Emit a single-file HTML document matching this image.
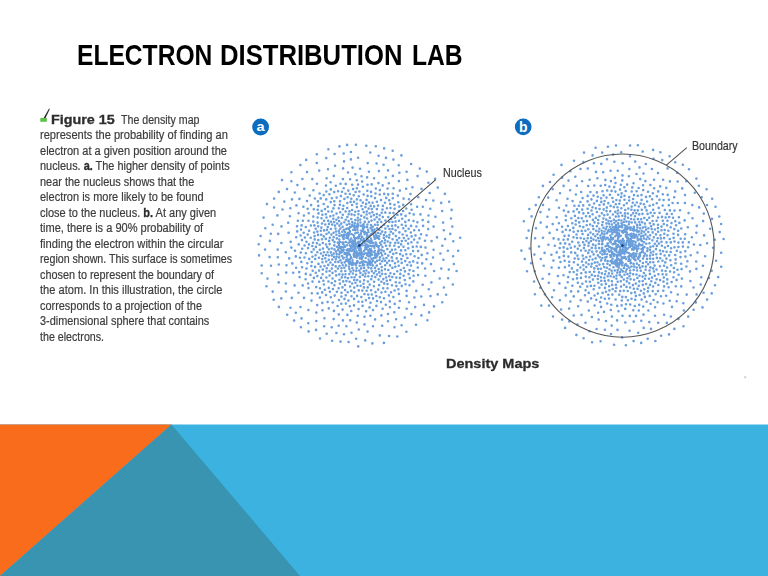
<!DOCTYPE html>
<html><head><meta charset="utf-8"><style>
html,body{margin:0;padding:0;background:#fff;}
body{width:768px;height:576px;position:relative;overflow:hidden;font-family:"Liberation Sans", sans-serif;}
.t{position:absolute;white-space:pre;line-height:1;transform-origin:0 0;}
.t b{font-weight:700;color:#2a2a2a}
.p{-webkit-text-stroke:0.2px #3c3c3c}
.f{filter:blur(0.35px)}
.h{-webkit-text-stroke:0.3px #2e2e2e}
.t b{-webkit-text-stroke:0.3px #2a2a2a}
.fig{position:absolute;left:0;top:0}
.band{position:absolute;left:0;top:424px}
</style></head><body>
<svg class="fig" width="768" height="424" viewBox="0 0 768 424">
<defs><filter id="bl" x="-5%" y="-5%" width="110%" height="110%"><feGaussianBlur stdDeviation="0.55"/></filter></defs>
<g filter="url(#bl)" stroke="#6a9fdc" stroke-width="2.6" stroke-linecap="round" fill="none">
<path d="M421.4 315.4h0M363.7 194.5h0M291.3 247.6h0M307.0 172.1h0M393.6 188.3h0M278.1 274.6h0M372.4 343.4h0M433.0 257.5h0M417.4 222.2h0M373.0 310.1h0M406.3 254.3h0M293.2 272.8h0M364.5 294.1h0M398.9 181.1h0M331.9 211.5h0M453.3 241.2h0M401.8 285.9h0M344.0 161.4h0M399.4 172.8h0M333.7 319.1h0M428.4 182.8h0M281.4 243.0h0M378.5 183.1h0M394.3 312.2h0M335.1 165.8h0M311.8 293.2h0M269.9 240.9h0M296.2 237.3h0M441.3 268.6h0M437.0 237.4h0M326.4 271.6h0M258.7 244.2h0M368.9 171.7h0M390.5 208.0h0M298.6 213.3h0M350.2 320.2h0M378.6 155.7h0M385.8 177.5h0M297.9 220.7h0M448.1 278.3h0M318.2 226.3h0M322.2 292.4h0M281.5 226.4h0M307.0 201.0h0M417.6 176.1h0M386.0 157.9h0M356.2 338.7h0M345.7 219.7h0M421.3 296.5h0M344.3 267.8h0M398.9 307.7h0M385.4 291.8h0M342.9 179.1h0M328.8 308.4h0M421.7 254.9h0M320.6 266.6h0M434.0 306.4h0M313.0 242.7h0M287.0 189.1h0M411.4 314.1h0M404.8 317.6h0M326.6 178.2h0M373.0 326.2h0M298.5 292.8h0M324.4 318.3h0M411.0 265.6h0M452.3 226.6h0M326.7 333.8h0M356.8 180.2h0M373.6 232.0h0M401.4 155.4h0M321.3 227.6h0M426.8 171.6h0M316.2 287.1h0M382.2 325.7h0M318.5 263.9h0M338.8 314.4h0M316.1 329.9h0M377.0 301.0h0M334.4 285.3h0M316.8 163.0h0M413.5 221.0h0M421.5 188.9h0M259.0 255.4h0M367.6 331.6h0M395.3 266.8h0M399.0 220.7h0M392.7 193.8h0M329.9 291.8h0M412.4 187.2h0M451.0 218.5h0M409.0 302.2h0M375.2 257.8h0M443.9 287.5h0M316.3 312.6h0M371.7 184.4h0M405.0 271.4h0M418.3 197.3h0M420.5 214.4h0M344.0 334.3h0M407.4 258.0h0M425.0 240.7h0M390.4 273.2h0M287.2 314.8h0M405.6 215.9h0M357.8 315.7h0M414.1 239.6h0M303.4 206.8h0M349.4 269.1h0M444.8 193.9h0M392.6 239.2h0M328.0 169.2h0M341.5 292.7h0M312.3 179.1h0M339.0 300.0h0M403.1 211.0h0M290.4 208.3h0M360.4 272.9h0M333.7 237.1h0M431.4 282.4h0M336.4 333.0h0M265.1 249.6h0M367.2 218.5h0M399.4 232.4h0M375.8 146.2h0M384.2 193.9h0M416.3 290.9h0M389.3 221.9h0M406.6 171.8h0M343.4 205.8h0M322.5 262.2h0M288.2 222.8h0M399.9 190.6h0M312.5 281.6h0M319.6 193.5h0M336.4 234.7h0M336.2 275.4h0M395.8 282.2h0M288.6 232.7h0M364.5 316.8h0M311.6 252.0h0M294.6 285.4h0M346.4 326.2h0M385.2 253.7h0M326.3 158.1h0M300.5 307.0h0M352.6 167.6h0M433.6 226.6h0M360.4 222.5h0M317.2 305.1h0M456.6 271.0h0M388.0 170.4h0M348.6 342.0h0M395.9 236.1h0M267.5 278.6h0M421.0 234.3h0M388.9 295.4h0M403.5 246.7h0M304.3 188.9h0M382.9 205.9h0M358.8 329.5h0M319.1 281.8h0M424.0 304.9h0M263.6 217.6h0M366.3 145.7h0M308.5 220.7h0M298.7 244.4h0M337.6 306.0h0M376.6 163.5h0M277.7 249.6h0M326.4 277.5h0M412.8 246.9h0M355.9 144.8h0M345.0 285.0h0M308.5 288.1h0M281.3 298.4h0M284.3 201.6h0M429.7 193.0h0M314.9 198.5h0M442.2 211.0h0M328.8 287.9h0M334.6 154.0h0M321.2 234.7h0M338.1 250.0h0M305.8 273.9h0M335.8 185.7h0M371.1 290.3h0M399.0 211.0h0M401.6 325.3h0M398.3 202.3h0M453.8 264.0h0M318.3 205.9h0M278.7 282.4h0M369.1 202.5h0M330.3 216.2h0M433.3 200.6h0M318.5 213.4h0M322.0 239.3h0M348.3 190.6h0M409.5 285.2h0M327.2 247.1h0M368.5 267.6h0M308.3 323.3h0M383.2 288.2h0M388.8 183.2h0M278.8 191.9h0M381.1 244.8h0M332.7 302.5h0M274.1 198.6h0M361.4 206.0h0M417.8 267.6h0M406.6 295.9h0M411.1 164.0h0M383.7 251.1h0M370.6 227.9h0M354.2 280.0h0M302.4 179.0h0M326.4 191.5h0M291.4 172.3h0M327.8 206.7h0M308.7 213.3h0M299.4 198.9h0M334.5 242.1h0M319.9 297.6h0M389.1 336.0h0M285.9 283.5h0M416.0 324.7h0M388.3 255.6h0M431.0 264.1h0M325.2 258.3h0M291.8 297.9h0M329.1 240.9h0M353.1 189.1h0M330.8 297.3h0M330.9 229.0h0M445.1 239.1h0M386.2 197.9h0M393.4 297.1h0M326.2 199.4h0M449.1 201.7h0M358.0 184.6h0M435.4 216.7h0M302.7 285.4h0M378.6 279.6h0M395.6 221.5h0M285.9 291.5h0M309.1 230.8h0M399.9 277.9h0M383.4 258.6h0M407.4 179.9h0M411.0 204.3h0M295.0 250.8h0M341.8 235.3h0M379.8 297.2h0M302.9 220.8h0M437.8 187.6h0M271.0 265.7h0M300.8 252.5h0M326.0 255.0h0M401.1 250.4h0M313.3 216.6h0M443.8 230.3h0M390.0 265.4h0M406.8 235.5h0M374.6 219.5h0M282.0 180.1h0M342.8 214.8h0M354.1 298.9h0M269.6 257.1h0M387.9 226.2h0M379.4 219.4h0M381.4 315.4h0M314.1 232.5h0M362.9 186.8h0M328.2 264.9h0M354.3 292.3h0M333.8 175.9h0M341.8 277.4h0M392.0 285.2h0M422.7 284.7h0M340.1 201.3h0M400.8 270.0h0M316.8 154.3h0M350.7 226.9h0M404.8 280.1h0M356.6 268.1h0M396.4 253.0h0M336.6 197.6h0M302.0 240.1h0M416.4 226.5h0M403.6 198.6h0M297.2 231.4h0M336.8 238.4h0M316.9 243.3h0M295.8 256.4h0M317.0 183.8h0M414.6 256.3h0M342.8 209.1h0M392.0 225.8h0M393.5 213.1h0M458.2 250.7h0M304.0 297.9h0M272.7 291.6h0M425.1 268.5h0M388.3 270.0h0M290.5 307.7h0M374.1 178.3h0M289.2 258.4h0M382.6 308.8h0M367.7 163.1h0M375.5 193.5h0M422.8 206.8h0M392.7 150.7h0M408.5 238.8h0M274.1 207.5h0M320.9 253.5h0M339.4 225.6h0M364.8 221.9h0M403.8 268.0h0M306.2 159.9h0M301.5 318.4h0M437.7 294.4h0M429.1 312.4h0M392.3 277.0h0M312.7 270.8h0M379.8 335.4h0M385.4 228.6h0M299.6 277.1h0M314.7 239.4h0M278.9 306.9h0M417.1 206.7h0M428.5 215.5h0M343.2 281.4h0M378.9 171.1h0M379.2 272.4h0M406.4 331.8h0M356.1 274.7h0M347.4 314.9h0M371.5 220.6h0M382.8 217.0h0M302.1 267.3h0M324.2 326.2h0M403.8 238.0h0M308.6 331.4h0M351.3 198.7h0M447.9 250.7h0M373.1 298.4h0M373.9 286.3h0M391.9 249.9h0M423.1 225.9h0M343.7 188.2h0M418.1 275.1h0M289.9 216.3h0M397.4 214.9h0M418.1 251.1h0M377.7 225.0h0M325.0 209.1h0M322.6 274.2h0M410.5 194.0h0M358.1 157.7h0M411.4 242.2h0M322.8 243.0h0M439.7 278.5h0M375.0 224.7h0M433.6 249.8h0M327.6 302.0h0M367.7 287.4h0M371.7 262.7h0M345.9 303.6h0M358.5 211.1h0M358.8 290.4h0M332.2 224.6h0M301.3 261.9h0M395.3 249.5h0M399.8 301.0h0M333.3 218.8h0M348.6 221.1h0M388.0 314.0h0M381.0 302.1h0M329.4 194.3h0M371.8 294.5h0M392.8 198.2h0M334.1 256.9h0M390.2 280.1h0M294.8 192.5h0M376.8 265.6h0M266.9 204.1h0M335.9 259.3h0M384.0 298.2h0M358.5 301.8h0M401.8 224.7h0M308.4 310.0h0M282.5 209.5h0M349.3 274.1h0M408.3 248.2h0M377.0 228.3h0M460.2 237.7h0M417.5 242.5h0M286.5 265.3h0M402.8 255.7h0M426.6 235.2h0M366.1 203.9h0M324.1 220.7h0M384.1 224.8h0M322.4 214.7h0M376.9 201.8h0M385.2 265.3h0M396.7 258.4h0M303.7 232.7h0M317.6 217.5h0M347.7 292.3h0M338.8 208.3h0M363.8 271.3h0M311.1 205.1h0M413.3 281.4h0M369.7 284.6h0M399.2 238.0h0M327.8 227.0h0M398.4 289.3h0M332.6 278.5h0M324.1 230.4h0M406.3 208.5h0M265.3 228.3h0M378.0 205.6h0M363.8 212.2h0M332.7 264.9h0M339.5 146.4h0M278.2 233.9h0M340.2 212.3h0M366.4 270.5h0M326.0 185.6h0M337.9 268.6h0M343.3 258.5h0M354.3 287.6h0M322.0 223.5h0M272.7 224.7h0M391.8 257.4h0M310.9 225.5h0M394.5 327.3h0M338.6 288.2h0M367.1 177.4h0M382.1 273.7h0M359.4 191.5h0M413.2 261.4h0M291.4 181.2h0M385.3 212.6h0M334.7 295.6h0M364.1 265.0h0M342.0 191.7h0M331.7 255.4h0M354.0 305.4h0M380.0 242.7h0M389.8 213.0h0M345.6 211.5h0M305.6 279.3h0M317.3 252.3h0M379.7 215.3h0M334.5 205.1h0M356.7 203.8h0M408.1 243.6h0M306.5 241.8h0M330.7 202.1h0M388.3 217.1h0M373.8 215.1h0M373.9 273.2h0M356.9 199.4h0M350.1 179.2h0M385.1 240.2h0M367.3 190.7h0M286.2 272.6h0M443.4 259.8h0M323.7 204.0h0M350.9 152.0h0M389.8 301.4h0M351.5 296.3h0M422.2 263.4h0M376.9 209.1h0M419.8 168.6h0M367.4 224.5h0M374.6 229.6h0M348.4 300.6h0M377.1 260.7h0M385.0 202.8h0M387.5 284.1h0M375.8 188.5h0M371.3 196.2h0M415.5 235.4h0M330.4 262.5h0M362.6 305.9h0M313.7 249.4h0M352.4 268.1h0M381.0 200.0h0M345.7 295.3h0M319.9 249.8h0M407.3 265.0h0M366.6 199.9h0M381.4 227.0h0M349.4 211.4h0M365.2 276.5h0M371.0 225.0h0M371.3 268.4h0M360.1 168.7h0M339.5 266.1h0M326.5 234.0h0M278.8 264.5h0M305.9 253.3h0M401.7 262.9h0M345.1 290.0h0M333.4 208.4h0M382.5 209.6h0M346.1 260.2h0M337.2 223.5h0M370.5 302.8h0M311.3 266.0h0M398.8 247.0h0M380.2 276.1h0M402.6 234.5h0M385.4 220.5h0M307.3 263.2h0M358.6 309.1h0M320.0 288.3h0M339.3 274.4h0M431.6 241.1h0M343.7 153.5h0M347.3 203.1h0M320.8 230.8h0M316.3 321.0h0M330.8 252.4h0M332.5 272.9h0M425.4 275.7h0M408.8 220.2h0M328.4 281.5h0M402.2 218.8h0M315.7 228.7h0M410.8 232.5h0M331.8 268.6h0M385.4 232.4h0M345.3 271.0h0M336.5 213.6h0M355.3 220.1h0M387.6 188.6h0M321.5 218.3h0M339.1 221.1h0M336.9 246.8h0M378.4 254.1h0M403.2 204.9h0M338.8 230.9h0M398.9 293.9h0M397.9 195.6h0M354.5 215.1h0M346.4 281.1h0M379.7 194.5h0M410.6 254.3h0M441.2 202.9h0M311.5 300.6h0M417.4 262.7h0M347.2 208.0h0M385.5 274.0h0M401.1 244.4h0M376.4 305.9h0M339.8 247.1h0M352.2 283.5h0M345.9 265.4h0M349.7 263.8h0M365.2 340.4h0M394.9 217.7h0M370.3 152.5h0M398.7 165.3h0M409.8 278.1h0M387.3 249.1h0M357.8 217.7h0M367.5 265.1h0M332.9 289.0h0M395.6 230.2h0M386.8 280.8h0M359.9 276.9h0M372.4 212.2h0M368.7 272.6h0M395.0 263.2h0M357.4 285.7h0M406.6 290.9h0M360.5 200.3h0M374.1 281.7h0M322.5 310.2h0M299.9 257.7h0M389.1 237.6h0M260.6 236.0h0M366.6 214.5h0M290.7 241.7h0M415.2 307.1h0M383.8 237.9h0M406.2 188.8h0M305.8 227.0h0M394.6 290.5h0M398.1 227.3h0M375.0 198.1h0M397.2 271.2h0M377.5 222.2h0M308.0 248.1h0M363.5 283.7h0M350.1 286.5h0M434.1 271.0h0M292.3 263.4h0M360.3 219.5h0M425.5 247.6h0M419.0 230.3h0M338.1 191.2h0M405.7 240.8h0M384.2 283.4h0M328.9 232.5h0M386.0 245.7h0M341.5 268.2h0M318.0 234.9h0M413.7 214.4h0M345.5 193.8h0M317.3 276.1h0M330.8 189.4h0M379.1 285.1h0M297.0 226.3h0M304.9 237.5h0M392.4 267.9h0M335.7 266.4h0M378.0 233.0h0M352.1 205.0h0M277.4 215.4h0M368.3 276.2h0M340.5 260.2h0M353.7 195.3h0M327.5 252.3h0M335.1 281.2h0M343.1 168.4h0M396.1 319.3h0M399.3 206.6h0M397.3 336.5h0M352.3 222.1h0M346.8 224.7h0M346.3 228.9h0M339.9 283.6h0M385.0 269.3h0M325.8 238.9h0M329.6 244.1h0M345.0 232.1h0M351.6 214.4h0M364.1 280.3h0M336.7 254.1h0M411.1 225.9h0M347.3 217.0h0M332.1 340.8h0M381.1 252.9h0M351.2 311.0h0M333.7 253.6h0M273.7 299.7h0M360.9 225.7h0M339.2 257.4h0M339.5 279.8h0M375.1 319.4h0M400.1 254.1h0M394.6 208.7h0M345.5 274.2h0M334.4 249.4h0M294.1 320.6h0M359.2 270.5h0M332.7 240.1h0M296.1 267.7h0M292.0 199.4h0M309.7 195.6h0M386.1 277.5h0M375.5 292.1h0M411.6 209.7h0M345.7 183.9h0M360.1 281.6h0M367.5 184.8h0M413.4 271.0h0M364.5 324.4h0M351.3 219.0h0M382.7 185.4h0M378.9 249.3h0M261.7 265.5h0M405.8 225.8h0M328.2 220.8h0M357.1 295.9h0M398.4 242.8h0M312.5 256.7h0M315.1 266.9h0M364.1 267.9h0M366.1 311.2h0M352.1 210.0h0M319.2 170.6h0M323.4 280.7h0M313.3 221.6h0M335.5 228.6h0M338.4 261.9h0M389.5 229.0h0M358.8 196.2h0M394.3 245.8h0M371.2 279.3h0M311.8 262.0h0M368.6 208.6h0M362.3 290.6h0M340.5 341.6h0M319.0 257.8h0M352.3 224.7h0M430.5 296.1h0M328.3 211.5h0M387.1 262.9h0M348.0 172.5h0M384.1 148.4h0M355.9 265.2h0M334.2 192.1h0M277.8 257.2h0M386.6 236.4h0M379.1 239.0h0M310.7 237.8h0M338.4 217.6h0M300.4 165.1h0M389.2 260.7h0M352.2 184.8h0M331.4 234.6h0M379.2 236.2h0M367.9 281.5h0M306.5 268.5h0M409.6 213.3h0M329.6 275.5h0M383.9 342.9h0M390.2 203.9h0M319.7 244.8h0M353.5 270.5h0M337.8 242.6h0M386.9 208.3h0M375.0 267.9h0M371.0 216.6h0M427.4 253.3h0M379.9 257.4h0M326.0 295.0h0M403.6 275.8h0M357.7 223.6h0M304.5 257.5h0M310.5 274.9h0M397.0 240.1h0M353.1 264.5h0M333.6 232.8h0M323.9 284.5h0M442.3 245.8h0M405.5 231.1h0M389.4 234.7h0M301.6 225.4h0M348.0 278.1h0M304.6 245.5h0M392.4 260.9h0M390.4 242.8h0M328.8 259.7h0M420.8 246.9h0M344.5 298.9h0M349.8 306.2h0M381.4 281.8h0M334.3 245.4h0M443.1 222.6h0M321.1 277.9h0M419.5 238.4h0M355.4 174.3h0M323.0 248.6h0M401.2 214.4h0M382.5 247.0h0M333.4 215.5h0M344.7 262.4h0M335.6 271.2h0M326.8 268.2h0M361.2 215.7h0M428.3 221.9h0M393.1 233.6h0M379.8 190.1h0M376.6 255.8h0M364.4 217.4h0M381.3 222.0h0M381.5 292.5h0M367.1 227.1h0M365.9 300.2h0M371.0 191.9h0M312.3 246.0h0M374.1 206.4h0M389.8 245.6h0M373.0 260.6h0M307.7 208.8h0M393.4 159.6h0M303.9 215.6h0M405.3 221.9h0M313.8 209.2h0M324.5 266.0h0M361.5 176.3h0M358.2 346.4h0M389.9 307.3h0M362.1 181.5h0M320.7 198.4h0M342.6 309.6h0M361.3 297.0h0M351.6 277.3h0M339.4 236.0h0M321.7 210.9h0M383.9 235.0h0M344.4 198.9h0M331.9 198.2h0M350.7 271.5h0M363.9 287.4h0M315.8 272.8h0M391.1 219.0h0M363.6 224.2h0M371.9 271.2h0M342.3 231.8h0M381.7 267.1h0M371.8 209.1h0M442.3 302.2h0M426.0 200.1h0M388.0 321.2h0M331.7 327.3h0M342.1 256.1h0M405.5 284.2h0M387.5 288.3h0M354.0 201.8h0M393.3 253.9h0M376.8 214.1h0M382.2 261.3h0M390.0 252.0h0M350.9 159.4h0M409.6 262.2h0M366.8 211.5h0M369.1 298.0h0M378.2 289.6h0M366.6 290.7h0M359.7 265.8h0M285.8 252.2h0M382.2 231.6h0M323.9 252.3h0M430.3 208.8h0M451.6 209.9h0M319.1 270.6h0M365.4 207.1h0M376.1 235.3h0M336.9 291.8h0M340.9 196.0h0M349.8 194.0h0M326.5 217.5h0M356.9 207.1h0M369.5 307.4h0M329.8 237.7h0M408.6 274.1h0M375.3 277.1h0M339.1 244.8h0M372.0 276.2h0M394.1 274.0h0M317.6 293.4h0M338.7 325.8h0M336.0 231.5h0M398.7 265.8h0M342.6 226.7h0M341.4 296.6h0M348.7 214.2h0M342.7 265.2h0M411.6 236.4h0M395.3 242.9h0M322.8 269.6h0M296.4 205.4h0M351.5 332.7h0M389.2 200.3h0M300.9 327.3h0M384.6 243.0h0M339.3 239.6h0M331.1 221.7h0M340.4 228.6h0M428.8 289.2h0M356.8 322.5h0M401.3 259.1h0M380.3 263.8h0M377.0 274.5h0M398.1 261.5h0M418.4 258.0h0M426.4 259.3h0M414.4 297.5h0M405.3 250.2h0M266.5 286.3h0M297.4 185.1h0M302.2 248.8h0M361.1 268.4h0M322.2 259.0h0M382.0 241.2h0M378.7 269.1h0M344.3 222.2h0M331.7 248.5h0M354.5 226.0h0M332.3 259.5h0M385.0 260.8h0M349.6 281.8h0M446.1 294.8h0M355.3 211.7h0M317.6 222.6h0M309.2 258.9h0M381.4 249.9h0M330.6 182.3h0M409.6 270.1h0M295.8 312.7h0M414.2 230.3h0M372.1 229.8h0M365.5 273.6h0M331.7 283.0h0M357.2 280.1h0M403.3 228.3h0M358.4 214.2h0M326.2 261.5h0M395.4 225.4h0M315.2 259.0h0M336.4 219.8h0M357.2 226.0h0M379.4 229.9h0M315.9 246.9h0M362.9 202.6h0M440.4 253.5h0M339.9 204.7h0M435.1 178.8h0M372.6 202.8h0M388.2 194.4h0M318.3 240.1h0M320.0 338.5h0M400.3 273.9h0M313.4 190.3h0M360.7 285.8h0M422.7 220.1h0M368.8 221.9h0M381.8 270.5h0M325.3 224.5h0M335.3 262.0h0M376.7 217.3h0M413.6 275.7h0M349.1 228.8h0M307.7 234.6h0M378.8 246.2h0M427.4 320.3h0M375.2 262.4h0M394.5 204.8h0M341.8 217.8h0M372.7 265.4h0M377.2 237.5h0M352.9 273.5h0M341.3 271.3h0M349.4 223.9h0M340.5 183.8h0M328.4 149.2h0M362.6 209.2h0M367.6 195.9h0M448.8 269.6h0M339.8 251.9h0M405.2 261.1h0M299.2 272.1h0M408.6 228.8h0M324.9 289.7h0M326.0 244.5h0M356.3 270.9h0M342.5 287.4h0M328.8 255.5h0M406.7 308.7h0M396.3 277.6h0M386.5 258.0h0M385.8 304.7h0M323.0 255.8h0M317.7 209.7h0M327.0 229.9h0M452.8 284.5h0M370.7 205.9h0M399.6 282.8h0M392.5 222.0h0M413.1 251.0h0M314.4 225.4h0M391.0 292.2h0M323.7 195.1h0M329.0 223.9h0M390.8 231.8h0M379.6 260.0h0M348.9 266.6h0M380.6 233.8h0M345.2 277.2h0M300.6 235.5h0M453.1 256.3h0M323.8 236.4h0M376.3 296.0h0M342.6 274.6h0M309.0 244.4h0M261.7 273.3h0M383.3 279.1h0M392.9 175.9h0M372.8 226.7h0M381.7 212.8h0M368.2 294.6h0M350.6 201.9h0M329.6 271.0h0M401.8 241.1h0M347.1 144.9h0M362.3 301.7h0M348.4 261.8h0M334.3 201.3h0M325.8 214.2h0M387.7 241.5h0M382.1 255.4h0M339.3 254.4h0M396.4 286.1h0M341.3 223.6h0M314.6 236.1h0M370.3 264.7h0M313.9 277.9h0M355.5 282.8h0M341.3 303.8h0M335.0 225.6h0M351.2 290.7h0M315.6 255.3h0M416.7 246.5h0M301.0 229.6h0M357.9 220.5h0M342.9 320.4h0M368.7 262.8h0M317.3 231.6h0M317.9 201.4h0M364.4 226.7h0M339.4 233.3h0M375.7 271.1h0M355.6 192.0h0M362.8 274.9h0M392.5 228.9h0M333.9 310.9h0M341.7 262.7h0M394.7 303.9h0M354.6 277.2h0M383.6 164.7h0M428.2 229.1h0M336.0 251.6h0M308.1 283.5h0M336.7 256.7h0M328.9 249.3h0M378.0 251.6h0M270.8 233.7h0M322.3 302.9h0M340.1 242.0h0M356.9 188.3h0M409.0 199.3h0M354.8 223.4h0M369.6 213.3h0M450.3 233.9h0M389.2 276.2h0M347.6 197.2h0M343.9 229.7h0M334.2 222.1h0M370.4 315.8h0"/>
<path d="M604.8 280.9h0M606.5 223.4h0M562.6 231.9h0M690.0 271.4h0M687.4 261.2h0M650.1 258.6h0M540.3 287.7h0M656.6 279.3h0M553.6 174.7h0M565.8 215.8h0M644.1 242.3h0M656.8 203.2h0M643.9 273.0h0M589.5 331.2h0M655.0 315.8h0M582.6 198.1h0M598.1 238.1h0M665.3 262.4h0M594.3 185.5h0M591.9 317.0h0M569.2 261.7h0M645.8 164.0h0M625.3 322.5h0M528.6 230.6h0M615.4 191.6h0M657.0 241.3h0M663.4 303.5h0M702.9 265.8h0M629.4 169.1h0M662.7 205.5h0M596.0 171.9h0M675.2 162.3h0M540.8 259.0h0M701.3 277.2h0M561.5 164.9h0M646.0 196.9h0M559.9 300.2h0M690.7 255.3h0M639.5 275.8h0M549.0 305.6h0M681.9 278.6h0M531.6 216.4h0M662.2 160.1h0M610.8 310.0h0M562.1 319.6h0M660.4 235.3h0M644.3 289.3h0M629.8 315.9h0M578.3 218.0h0M688.1 247.3h0M570.4 301.5h0M703.1 221.1h0M543.0 237.8h0M611.9 224.5h0M694.8 192.7h0M686.3 181.3h0M572.4 285.7h0M686.7 294.6h0M646.8 255.6h0M632.9 285.1h0M609.9 265.2h0M661.9 245.7h0M671.6 282.0h0M716.1 260.7h0M592.9 219.9h0M621.6 305.4h0M599.0 272.4h0M553.4 260.6h0M650.2 262.3h0M593.7 289.2h0M641.8 209.7h0M584.1 238.7h0M677.7 181.5h0M666.8 322.9h0M599.4 287.7h0M660.4 152.3h0M677.2 172.8h0M675.2 255.0h0M617.5 329.9h0M687.8 227.3h0M715.5 206.7h0M681.3 228.5h0M631.3 293.1h0M637.5 288.9h0M660.2 186.4h0M570.4 171.2h0M693.5 287.5h0M622.5 175.4h0M577.4 324.5h0M685.2 234.3h0M615.8 204.3h0M649.9 273.9h0M678.4 318.9h0M704.1 235.4h0M578.1 306.3h0M643.9 204.2h0M621.8 300.5h0M618.5 311.2h0M688.2 316.6h0M580.7 300.2h0M538.8 197.3h0M548.4 244.8h0M582.0 261.6h0M713.1 247.8h0M655.1 307.3h0M610.6 170.8h0M588.8 310.5h0M540.5 212.1h0M680.0 210.3h0M567.5 198.7h0M551.6 267.5h0M524.8 259.1h0M592.6 155.4h0M670.7 227.2h0M642.5 213.9h0M671.1 292.3h0M667.1 267.5h0M642.7 151.6h0M670.9 316.5h0M601.9 213.2h0M696.4 178.6h0M641.2 342.9h0M565.5 287.9h0M714.8 239.7h0M657.6 302.2h0M563.6 239.8h0M641.6 299.6h0M558.9 223.2h0M680.5 252.2h0M715.0 285.2h0M663.8 277.6h0M617.7 281.8h0M643.0 258.6h0M562.1 177.6h0M703.6 292.8h0M573.5 237.3h0M653.9 271.5h0M601.1 297.5h0M625.7 191.0h0M579.6 245.6h0M648.4 310.5h0M652.7 232.4h0M650.4 185.0h0M529.7 248.5h0M584.0 152.6h0M573.0 279.3h0M656.9 257.9h0M621.0 286.6h0M612.4 294.6h0M604.0 311.9h0M614.1 344.8h0M696.4 232.7h0M625.9 345.3h0M600.2 302.0h0M674.5 247.2h0M676.6 279.9h0M606.0 291.8h0M559.0 207.8h0M622.7 163.3h0M602.2 152.6h0M577.8 282.7h0M661.5 241.8h0M711.7 270.8h0M685.0 195.1h0M613.1 154.6h0M653.5 158.7h0M587.8 168.5h0M663.3 290.8h0M695.8 302.4h0M547.4 216.7h0M563.6 185.9h0M618.2 194.8h0M616.4 200.0h0M616.0 145.5h0M559.7 248.0h0M653.1 286.5h0M620.0 189.6h0M671.2 265.2h0M597.8 196.7h0M553.6 238.4h0M588.2 252.9h0M658.0 217.5h0M719.7 232.1h0M641.3 320.7h0M633.6 341.1h0M699.1 207.4h0M666.9 213.9h0M578.2 291.4h0M700.3 245.0h0M618.9 267.6h0M600.6 341.3h0M578.3 242.6h0M553.0 316.5h0M692.5 218.2h0M618.1 223.4h0M614.9 177.9h0M654.9 229.5h0M563.8 255.9h0M596.6 329.0h0M673.6 237.9h0M591.4 199.4h0M642.7 281.0h0M647.7 338.8h0M574.8 246.5h0M706.6 189.3h0M586.3 257.3h0M633.2 274.2h0M605.7 271.3h0M625.9 297.1h0M535.8 205.1h0M622.3 180.4h0M559.4 283.4h0M580.2 286.8h0M657.7 238.3h0M653.1 209.8h0M712.0 218.9h0M677.8 203.0h0M642.9 263.0h0M585.8 276.6h0M539.0 246.5h0M577.3 270.4h0M574.0 160.8h0M587.8 301.6h0M603.8 204.4h0M678.1 234.9h0M638.2 332.7h0M633.3 310.2h0M661.0 296.2h0M636.9 263.6h0M681.6 269.1h0M675.3 221.3h0M661.1 335.8h0M590.4 192.0h0M611.2 304.7h0M667.5 235.3h0M544.9 294.2h0M624.5 225.2h0M647.2 251.1h0M667.5 220.8h0M692.3 205.1h0M557.9 276.0h0M661.5 226.6h0M577.0 209.3h0M628.1 217.7h0M651.0 328.9h0M622.8 271.4h0M696.2 261.5h0M576.4 334.9h0M619.7 274.9h0M681.3 286.4h0M605.4 179.9h0M621.2 152.2h0M604.3 215.3h0M652.1 199.3h0M565.8 220.3h0M571.3 218.2h0M651.9 169.0h0M654.8 243.8h0M675.6 259.4h0M654.8 275.7h0M667.7 194.9h0M556.6 200.2h0M634.8 306.0h0M651.3 281.2h0M595.9 208.3h0M605.0 287.9h0M643.5 173.5h0M602.7 222.1h0M576.8 274.6h0M689.0 169.3h0M592.9 279.6h0M582.7 255.6h0M697.5 252.6h0M634.1 279.8h0M599.1 248.1h0M678.9 217.3h0M633.1 199.0h0M583.2 205.4h0M548.8 282.7h0M558.9 267.7h0M630.0 156.3h0M601.9 244.3h0M598.8 243.9h0M658.0 224.8h0M677.5 269.7h0M624.0 205.2h0M637.8 210.4h0M635.9 295.9h0M565.1 243.4h0M664.6 255.5h0M674.4 328.9h0M677.8 294.5h0M675.2 191.4h0M702.5 307.4h0M637.8 195.7h0M621.5 223.3h0M660.7 253.9h0M572.6 201.1h0M526.7 238.0h0M682.9 246.6h0M583.5 221.2h0M624.0 284.8h0M581.2 192.0h0M581.3 273.2h0M658.1 231.7h0M638.8 206.5h0M627.4 278.2h0M624.6 265.5h0M609.9 194.8h0M619.2 294.8h0M531.1 263.3h0M542.6 278.8h0M600.9 277.2h0M642.8 249.3h0M593.9 163.3h0M658.4 274.3h0M648.1 264.2h0M624.5 199.7h0M594.6 305.5h0M604.9 329.7h0M669.9 181.4h0M573.7 315.5h0M576.5 234.5h0M642.2 222.3h0M668.0 246.0h0M630.1 145.5h0M569.3 321.4h0M580.4 202.0h0M645.4 226.7h0M536.0 228.2h0M588.7 292.9h0M659.6 212.9h0M645.0 278.7h0M601.6 284.6h0M649.3 322.1h0M597.4 178.3h0M575.9 194.5h0M672.0 306.9h0M635.2 161.6h0M587.6 208.7h0M633.5 183.3h0M683.9 310.5h0M568.4 256.6h0M588.1 234.9h0M652.8 193.3h0M586.0 281.5h0M583.3 265.2h0M707.0 205.0h0M708.9 278.0h0M721.2 252.7h0M594.1 203.5h0M653.2 268.4h0M552.7 189.1h0M534.1 281.5h0M573.3 227.9h0M649.4 238.8h0M638.8 310.5h0M569.5 244.4h0M594.6 295.5h0M598.7 319.6h0M588.2 186.0h0M625.0 213.4h0M630.6 263.3h0M656.3 254.2h0M685.3 251.2h0M691.9 237.2h0M594.8 262.6h0M618.7 216.4h0M634.2 219.5h0M572.3 223.2h0M641.5 195.1h0M667.1 225.2h0M577.4 255.6h0M640.2 179.1h0M629.2 197.1h0M658.2 322.7h0M631.7 206.6h0M573.6 211.4h0M721.2 266.8h0M621.9 265.3h0M527.0 271.2h0M644.1 231.8h0M721.1 224.0h0M633.9 226.8h0M548.2 197.6h0M620.8 281.3h0M581.0 250.5h0M613.2 201.7h0M595.8 217.9h0M626.7 269.4h0M599.5 205.0h0M620.2 291.1h0M641.7 230.8h0M643.2 190.1h0M662.8 220.7h0M588.4 229.3h0M615.5 291.2h0M630.1 270.5h0M658.7 207.9h0M594.9 276.0h0M585.5 322.8h0M622.1 337.4h0M653.4 251.5h0M608.3 203.1h0M612.9 214.5h0M591.2 266.6h0M632.3 187.4h0M626.0 304.2h0M596.2 240.5h0M660.0 250.5h0M710.2 228.7h0M589.4 205.0h0M674.3 229.1h0M636.7 267.6h0M655.7 294.2h0M654.0 179.8h0M554.8 245.8h0M644.9 296.9h0M596.2 230.8h0M673.0 217.8h0M644.5 247.1h0M556.7 217.2h0M523.9 221.3h0M589.6 179.7h0M649.7 295.9h0M588.8 242.9h0M672.6 203.0h0M652.7 291.1h0M638.8 285.7h0M608.7 229.8h0M678.4 247.0h0M609.4 186.6h0M647.8 291.4h0M542.9 185.9h0M625.2 308.9h0M590.5 232.6h0M601.1 260.4h0M666.4 274.6h0M586.0 216.2h0M647.1 220.0h0M611.0 334.0h0M599.5 264.6h0M614.8 270.5h0M658.4 285.0h0M606.5 197.6h0M656.8 196.2h0M592.6 214.3h0M646.1 284.0h0M667.6 168.4h0M670.4 260.3h0M622.3 215.8h0M600.7 185.7h0M616.5 275.5h0M617.1 320.4h0M573.6 231.8h0M583.7 269.6h0M608.5 280.4h0M566.3 205.5h0M663.5 281.6h0M590.1 256.5h0M606.8 207.6h0M639.6 256.4h0M631.7 222.5h0M621.7 276.9h0M633.7 321.6h0M589.7 272.0h0M628.3 208.5h0M626.4 221.6h0M635.2 299.7h0M583.4 162.0h0M596.9 226.2h0M663.1 179.8h0M594.2 271.8h0M674.1 272.3h0M604.4 234.3h0M611.9 316.6h0M587.3 286.5h0M660.0 266.3h0M585.7 272.4h0M599.4 228.7h0M596.9 192.4h0M646.3 243.7h0M546.8 226.9h0M670.8 242.4h0M581.7 230.9h0M679.4 222.9h0M627.7 291.0h0M592.1 342.2h0M650.7 212.8h0M656.5 269.6h0M609.9 217.8h0M615.1 227.3h0M592.6 259.5h0M666.1 295.7h0M616.3 287.9h0M620.0 272.1h0M534.9 294.3h0M641.4 233.3h0M602.5 191.3h0M576.8 185.8h0M666.3 187.9h0M629.3 283.2h0M688.6 213.1h0M641.6 199.9h0M543.7 265.7h0M636.6 230.0h0M593.6 254.4h0M662.5 260.8h0M637.9 219.1h0M607.7 261.0h0M564.9 267.3h0M554.0 290.3h0M609.5 269.3h0M580.5 169.0h0M605.7 257.4h0M649.2 217.7h0M602.6 292.9h0M675.5 263.3h0M629.3 267.7h0M636.8 202.5h0M640.1 224.9h0M587.0 221.1h0M609.4 290.4h0M585.4 230.8h0M653.1 149.9h0M607.6 214.6h0M639.2 214.4h0M712.2 198.7h0M607.2 303.5h0M654.6 265.6h0M649.7 205.7h0M609.8 226.7h0M593.2 234.2h0M585.0 295.2h0M640.8 270.7h0M643.2 306.6h0M567.9 239.4h0M579.2 222.4h0M616.2 221.1h0M551.4 254.7h0M621.4 208.3h0M574.7 258.5h0M597.5 262.2h0M656.0 249.1h0M683.3 303.3h0M666.5 242.4h0M534.8 271.3h0M569.1 308.6h0M601.3 163.9h0M638.6 188.0h0M619.3 203.8h0M613.5 267.3h0M664.7 230.0h0M673.5 233.7h0M568.8 235.6h0M703.8 213.6h0M613.9 219.7h0M599.8 257.3h0M649.4 243.3h0M585.6 250.7h0M598.3 282.7h0M639.6 295.0h0M617.2 305.9h0M664.1 314.7h0M678.4 242.6h0M645.4 181.1h0M645.6 269.8h0M615.5 183.1h0M601.8 250.4h0M674.5 210.6h0M597.9 255.4h0M559.3 257.4h0M601.7 230.8h0M569.9 230.2h0M641.1 219.3h0M701.7 197.3h0M670.7 252.0h0M662.0 270.6h0M636.5 274.5h0M601.1 306.9h0M599.6 209.0h0M684.8 238.8h0M521.4 250.6h0M588.2 213.0h0M626.5 286.9h0M563.8 210.6h0M609.0 298.5h0M583.3 227.1h0M700.7 284.5h0M662.0 216.9h0M567.7 282.2h0M571.2 252.4h0M650.1 255.6h0M660.2 258.2h0M612.4 198.0h0M593.4 229.1h0M568.5 180.6h0M550.0 182.0h0M583.1 242.2h0M598.3 223.3h0M618.9 264.9h0M569.7 272.1h0M579.1 212.4h0M598.1 268.9h0M648.0 191.7h0M619.9 200.5h0M592.2 251.7h0M623.8 290.8h0M590.1 224.5h0M571.9 268.4h0M634.0 195.1h0M666.6 251.7h0M639.3 281.4h0M649.0 278.7h0M648.3 232.0h0M627.9 213.5h0M636.3 213.3h0M601.2 280.8h0M668.8 205.2h0M570.1 190.3h0M719.3 216.5h0M624.5 195.7h0M633.7 269.9h0M606.2 219.6h0M586.1 262.5h0M577.8 248.8h0M633.1 213.2h0M615.3 211.9h0M563.8 251.9h0M636.5 174.0h0M575.3 176.7h0M605.0 274.2h0M561.1 309.5h0M705.1 256.2h0M562.1 226.7h0M599.4 216.1h0M603.4 218.5h0M646.6 210.4h0M669.9 210.4h0M647.1 201.5h0M631.7 191.5h0M557.0 229.8h0M549.1 209.5h0M573.7 296.4h0M650.6 303.8h0M582.1 181.3h0M636.6 191.3h0M591.8 263.7h0M577.9 264.8h0M616.4 278.6h0M654.5 213.0h0M615.9 284.7h0M627.4 274.1h0M579.9 226.2h0M664.1 238.1h0M603.5 227.7h0M682.2 188.4h0M582.4 283.7h0M607.9 146.8h0M640.1 228.2h0M645.5 234.4h0M680.5 257.1h0M597.8 293.6h0M669.7 239.0h0M611.6 190.9h0M630.6 279.3h0M580.7 238.1h0M631.1 215.3h0M628.9 176.3h0M653.8 237.2h0M563.5 275.2h0M652.4 240.2h0M618.0 210.5h0M630.2 304.5h0M587.7 195.9h0M664.8 210.0h0M565.8 295.4h0M591.1 237.9h0M535.1 238.3h0M642.0 241.1h0M643.3 235.9h0M690.4 281.0h0M565.1 327.9h0M614.4 161.7h0M589.8 216.4h0M629.6 330.7h0M640.0 267.8h0M658.2 191.4h0M653.2 246.2h0M684.6 220.4h0M662.8 194.3h0M644.3 218.0h0M589.1 260.0h0M693.9 244.5h0M580.9 277.9h0M585.6 290.2h0M649.9 223.2h0M603.2 264.1h0M723.6 239.0h0M610.6 276.3h0M595.6 248.3h0M529.3 209.1h0M639.2 304.9h0M669.7 300.7h0M653.6 224.4h0M678.6 274.7h0M590.9 285.9h0M612.2 273.5h0M610.2 211.3h0M604.2 267.1h0M627.2 184.6h0M618.8 225.8h0M595.6 258.4h0M567.9 226.0h0M663.1 251.2h0M696.7 225.9h0M664.1 286.4h0M567.4 248.7h0M626.8 203.3h0M693.6 309.8h0M643.9 238.5h0M615.6 299.5h0M707.1 299.6h0M534.4 254.6h0M671.5 223.1h0M624.5 219.3h0M591.8 247.9h0M606.0 321.0h0M652.6 221.0h0M600.2 252.6h0M603.1 236.9h0M644.9 253.6h0M541.3 305.6h0M648.4 228.2h0M602.2 225.1h0M631.5 298.7h0M663.6 200.0h0M610.6 205.9h0M613.8 207.1h0M617.8 170.7h0M601.1 198.3h0M581.5 314.9h0M583.9 248.1h0M578.4 258.9h0M578.0 231.1h0M603.2 172.2h0M644.9 223.6h0M644.0 256.1h0M598.1 312.7h0M596.3 299.8h0M586.4 241.0h0M560.5 262.0h0M605.2 185.0h0M670.1 271.5h0M603.7 209.4h0M593.0 244.6h0M623.9 267.9h0M638.9 234.5h0M558.5 239.4h0M604.3 277.7h0M605.1 260.4h0M627.3 265.9h0M594.4 285.7h0M649.5 270.5h0M611.2 221.2h0M707.1 243.2h0M637.1 270.5h0M682.8 164.7h0M645.1 207.4h0M642.4 244.9h0M590.9 241.0h0M583.4 213.4h0M655.4 341.0h0M604.9 298.8h0M656.6 220.8h0M605.9 283.9h0M591.5 210.5h0M650.0 284.9h0M596.9 200.9h0M549.2 274.1h0M669.2 255.4h0M582.6 234.0h0M615.8 216.6h0M586.2 267.0h0M673.5 277.2h0M611.9 281.3h0M676.1 225.3h0M656.9 245.9h0M601.9 273.4h0M646.6 301.8h0M540.7 222.6h0M718.2 277.1h0M673.9 268.0h0M658.3 261.5h0M645.8 266.6h0M588.5 245.8h0M647.5 248.4h0M595.3 236.3h0M640.4 253.1h0M653.0 254.7h0M599.2 241.0h0M683.5 326.3h0M575.7 224.5h0M604.4 231.5h0M635.0 216.2h0M612.7 289.0h0M600.9 268.7h0M607.7 276.2h0M635.8 283.6h0M600.4 235.6h0M656.0 234.4h0M574.4 205.7h0M647.0 258.9h0M609.1 286.3h0M631.1 219.0h0M602.7 240.1h0M568.4 211.9h0M647.6 213.9h0M584.5 244.9h0M602.4 254.4h0M607.2 190.5h0M598.2 220.0h0M594.5 222.4h0M640.0 261.0h0M620.9 184.8h0M560.0 193.2h0M583.6 338.3h0M652.7 216.0h0M586.7 225.3h0M623.8 279.6h0M632.8 202.8h0M577.0 238.0h0M696.4 268.9h0M611.7 325.6h0M596.9 212.0h0M573.9 262.3h0M598.1 275.7h0M606.7 226.7h0M658.0 291.1h0M630.3 227.2h0M606.9 233.2h0M684.9 203.0h0M658.0 173.1h0M645.6 275.5h0M666.4 258.6h0M675.8 286.3h0M622.5 315.7h0M612.0 263.2h0M638.9 231.4h0M591.1 298.4h0M664.1 265.7h0M668.6 287.3h0M635.5 260.3h0M589.9 281.7h0M676.9 250.8h0M564.7 260.7h0M653.3 262.3h0M646.1 229.6h0M544.6 252.9h0M588.6 264.3h0M610.5 261.3h0M610.9 181.1h0M650.1 235.3h0M614.3 222.8h0M572.2 241.7h0M649.9 249.7h0M635.2 222.4h0M681.2 263.8h0M608.9 273.4h0M552.7 224.1h0M633.8 288.8h0M621.4 220.5h0M696.6 294.4h0M667.3 279.4h0M639.0 265.3h0M624.5 274.8h0M569.1 265.6h0M552.1 297.2h0M570.9 247.7h0M592.5 207.2h0M571.1 291.4h0M612.2 284.9h0M625.2 210.0h0M575.2 252.9h0M630.1 287.5h0M660.9 238.4h0M642.8 284.9h0M685.4 256.6h0M633.6 263.9h0M642.5 266.4h0M637.1 224.9h0M589.4 277.2h0M587.6 201.4h0M631.4 209.7h0M640.8 238.9h0M620.6 212.7h0M637.9 258.3h0M614.2 187.1h0M634.2 266.6h0M593.5 195.6h0M628.9 224.3h0M577.0 278.4h0M597.4 234.3h0M616.8 266.3h0M549.6 232.9h0M635.0 292.4h0M596.6 251.4h0M634.6 210.4h0M602.4 258.0h0M611.2 229.2h0M629.5 276.2h0M582.2 209.6h0M669.0 334.4h0M651.1 226.2h0M613.8 276.9h0M646.4 239.2h0M657.9 228.1h0M635.0 205.3h0M573.7 272.0h0M651.7 229.1h0M587.7 238.3h0M711.7 293.4h0M575.8 220.8h0M621.1 269.6h0M629.1 221.7h0M595.6 245.6h0M594.3 268.4h0M642.9 227.6h0M650.8 252.6h0M653.6 300.0h0M639.3 222.1h0M608.5 221.1h0M624.3 187.2h0M643.7 327.9h0M680.7 238.8h0M655.3 282.9h0M578.9 205.7h0M597.8 279.0h0M627.2 226.6h0M607.4 263.8h0M698.9 185.8h0M606.9 267.7h0M650.4 267.4h0M589.4 250.3h0M662.6 274.2h0M560.4 243.4h0M626.8 281.4h0M668.4 230.7h0M556.7 252.4h0M653.2 204.7h0M622.3 296.9h0M602.1 247.9h0M660.1 280.1h0M629.2 200.5h0M640.9 290.8h0M643.1 185.3h0M568.2 277.1h0M650.5 246.9h0M669.6 156.2h0M603.6 195.3h0M615.5 263.9h0M607.0 159.2h0M605.8 229.1h0M574.9 215.9h0M604.8 254.0h0M637.4 278.0h0M596.6 266.0h0M627.9 300.3h0M674.5 241.5h0M621.6 193.4h0M641.0 236.2h0M543.0 205.0h0M581.8 218.2h0M621.4 226.1h0M564.5 235.9h0M686.4 266.5h0M653.1 258.7h0M669.2 217.0h0M646.3 262.0h0M606.5 211.1h0M665.0 247.5h0M617.5 207.2h0M637.9 145.3h0M592.8 226.0h0M611.7 270.8h0M642.6 276.6h0M604.6 201.0h0M659.0 243.6h0M671.1 248.2h0M598.8 231.6h0M617.3 272.6h0M618.8 220.0h0M583.5 258.7h0M632.6 228.9h0M664.3 233.7h0M643.5 314.6h0M565.9 229.7h0M595.6 147.7h0M688.9 242.2h0M580.4 267.5h0M602.0 233.4h0M640.6 203.6h0M637.4 227.4h0M608.3 294.7h0M630.2 273.2h0M642.8 251.9h0M563.6 247.4h0M625.2 216.4h0M661.5 230.3h0M593.5 239.6h0M674.2 197.3h0M652.0 277.6h0M682.8 242.4h0M612.6 227.2h0M636.0 315.9h0M631.5 266.5h0M659.5 199.7h0M648.2 287.9h0M623.8 222.0h0M647.6 236.7h0M600.8 238.3h0M663.8 224.0h0M654.2 188.3h0M676.7 301.3h0M671.8 214.0h0M603.8 251.7h0M625.6 271.8h0M667.2 283.5h0M643.8 293.4h0M609.1 223.7h0M591.8 274.9h0M621.2 196.9h0M668.9 199.8h0M649.9 196.2h0M665.6 271.0h0M665.6 217.5h0M616.0 225.0h0M601.3 201.9h0M678.1 230.8h0M617.7 213.6h0M639.5 167.4h0M617.7 270.0h0"/>
<path stroke-width="2.4" d="M347.3 233.9h0M355.3 233.3h0M354.9 240.5h0M355.3 252.7h0M357.8 247.1h0M338.7 248.3h0M367.1 255.2h0M365.7 244.6h0M367.3 253.3h0M371.6 230.5h0M357.1 262.0h0M367.2 239.3h0M350.0 259.2h0M376.1 238.0h0M365.7 261.9h0M362.2 258.4h0M355.1 226.9h0M343.4 239.0h0M348.4 242.9h0M355.6 243.6h0M349.4 234.6h0M348.1 232.7h0M376.1 243.4h0M376.9 246.1h0M363.2 263.9h0M362.5 244.8h0M355.2 230.2h0M354.6 248.1h0M352.3 226.0h0M376.0 244.3h0M370.1 256.4h0M365.3 253.3h0M340.6 252.8h0M368.9 253.3h0M360.6 254.5h0M373.2 231.5h0M362.8 225.1h0M368.4 246.8h0M361.8 259.3h0M344.5 245.6h0M348.6 260.8h0M370.8 249.0h0M375.5 253.8h0M362.4 237.0h0M343.7 249.6h0M353.6 254.7h0M367.6 244.9h0M370.2 251.3h0M356.7 254.1h0M358.0 237.2h0M347.4 260.0h0M378.7 246.3h0M344.4 253.7h0M346.0 242.0h0M355.8 246.0h0M348.2 238.5h0M341.7 247.2h0M367.8 246.8h0M362.7 228.1h0M354.4 254.7h0M355.7 248.8h0M361.3 257.0h0M345.1 246.7h0M375.4 233.2h0M359.9 241.8h0M357.4 229.8h0M368.7 249.9h0M351.3 238.6h0M365.2 245.4h0M370.5 234.8h0M368.4 250.6h0M374.4 236.6h0M368.4 251.9h0M370.9 238.4h0M352.7 243.1h0M378.1 238.1h0M346.5 257.5h0M358.4 247.9h0M343.0 243.9h0M349.9 242.3h0M367.4 249.4h0M342.7 236.7h0M361.5 254.8h0M359.1 235.0h0M358.9 244.1h0M349.9 248.9h0M352.6 264.6h0M378.6 252.9h0M359.7 258.6h0M363.2 229.7h0M374.4 247.7h0M351.2 246.4h0M349.0 260.5h0M357.8 227.1h0M362.1 253.3h0M354.8 238.0h0M355.3 263.5h0M358.5 238.2h0M356.7 263.2h0M362.3 257.3h0M374.9 250.8h0M347.0 250.2h0M371.2 242.2h0M359.2 250.2h0M377.6 236.3h0M378.3 246.9h0M371.8 250.9h0M363.9 238.9h0M353.6 226.5h0M353.5 229.8h0M365.1 262.0h0M368.6 242.0h0M358.5 225.3h0M353.1 240.5h0M357.0 256.0h0M371.9 259.1h0M355.7 256.2h0M371.5 246.0h0M354.5 248.1h0M357.2 263.1h0M344.3 234.7h0M349.3 250.1h0M351.6 246.9h0M361.6 252.4h0M368.1 229.7h0M354.8 248.1h0M357.8 261.8h0M342.0 246.9h0M366.6 241.1h0M367.2 235.4h0M375.9 254.5h0M359.4 247.4h0M367.4 241.4h0M351.9 242.7h0M367.2 262.6h0M368.5 259.4h0M360.7 245.1h0M346.5 249.9h0M349.9 227.2h0M360.8 238.9h0M360.0 262.9h0M355.4 238.1h0M352.4 244.6h0M370.7 262.3h0M354.1 244.3h0M361.3 251.4h0M355.2 247.2h0M347.9 235.9h0M346.3 254.5h0M372.1 254.8h0M371.4 233.7h0M349.6 240.4h0M351.1 238.5h0M375.7 243.7h0M348.1 235.3h0M351.0 246.4h0M365.0 232.0h0M374.5 252.5h0M347.9 249.2h0M360.2 248.2h0M342.3 242.4h0M367.1 234.6h0M368.4 256.2h0M350.5 240.5h0M357.1 232.6h0M351.1 251.0h0M347.0 245.2h0M349.7 245.3h0M370.0 242.7h0M354.0 249.4h0M355.3 252.6h0M355.3 227.6h0M360.7 234.5h0M368.8 236.5h0M353.8 244.9h0M353.3 245.2h0M348.7 251.7h0M372.2 243.1h0M372.8 234.0h0M355.1 239.7h0M354.1 242.7h0M369.9 252.8h0M344.9 253.0h0M361.2 257.6h0M366.8 245.8h0M353.3 263.5h0M362.0 231.0h0M376.2 244.0h0M372.2 230.0h0M374.7 239.0h0M365.5 245.3h0M361.2 239.8h0M374.1 236.0h0M371.1 240.7h0M376.4 257.4h0M361.0 249.3h0M374.0 252.1h0M374.3 231.9h0M367.8 262.9h0M375.8 242.5h0M343.8 234.6h0M371.3 258.7h0M355.3 242.4h0M355.3 242.1h0M347.0 233.8h0M373.4 258.1h0M351.4 257.9h0M339.2 248.0h0M346.3 234.8h0M363.9 254.2h0M363.9 227.3h0M362.2 243.8h0M366.7 227.0h0M358.3 241.7h0M362.4 253.4h0M352.5 260.3h0M376.7 244.6h0M358.8 242.9h0M356.4 238.0h0M346.9 255.9h0M356.6 251.3h0M366.7 232.9h0M371.1 242.9h0M371.7 240.5h0M374.7 245.6h0M370.8 253.7h0M355.6 249.0h0M374.2 236.8h0M349.2 250.1h0M377.2 255.6h0M357.2 261.0h0M361.6 261.9h0M354.1 256.7h0M346.1 260.9h0M361.4 258.1h0M362.6 263.2h0M369.8 262.0h0M378.9 250.7h0M359.2 236.9h0M353.4 235.1h0M364.6 234.3h0M354.6 228.9h0M354.5 241.5h0M357.1 225.4h0M348.9 229.3h0M360.9 233.3h0M359.0 249.6h0M363.8 232.0h0M368.9 240.4h0M352.2 262.8h0M353.8 235.7h0M343.4 251.1h0M356.8 255.3h0M362.1 258.5h0M377.0 253.9h0M365.9 247.9h0M349.1 250.5h0M341.8 252.3h0M349.8 232.8h0M361.8 236.8h0M368.8 250.2h0M338.9 245.2h0M350.8 257.7h0M350.9 256.6h0M364.0 251.0h0M369.2 261.6h0M362.7 245.3h0M351.1 238.6h0M341.1 248.5h0M359.5 252.8h0M364.7 232.0h0M368.5 264.0h0M338.9 243.4h0M371.1 255.0h0M358.2 245.8h0M374.9 257.5h0M348.2 236.5h0M354.1 251.1h0M350.4 261.9h0M353.2 229.9h0M363.7 261.1h0M363.8 240.8h0M371.9 246.4h0M347.0 236.0h0M365.2 247.6h0M363.7 227.9h0M366.4 244.4h0M357.6 238.2h0M352.5 241.7h0M351.7 251.0h0M365.7 258.0h0M350.1 231.2h0M351.8 247.9h0M362.7 225.8h0M362.3 265.6h0M358.5 255.5h0M346.7 253.0h0M346.4 253.7h0M352.6 246.0h0M360.5 247.1h0M353.9 253.2h0M349.0 263.4h0M373.3 245.7h0M359.8 253.0h0M343.5 247.3h0M353.7 249.9h0M359.9 245.9h0M370.6 234.7h0M343.7 242.4h0M366.5 237.7h0M349.3 249.2h0M357.6 253.2h0M363.0 256.6h0M369.9 241.2h0M339.8 246.8h0M369.7 249.6h0M355.7 256.5h0M368.0 245.9h0M370.4 261.3h0M365.2 249.3h0M348.0 259.5h0M353.5 245.0h0M359.2 246.0h0M369.8 249.1h0M370.0 255.4h0M361.2 255.3h0M364.9 241.7h0M369.3 262.8h0M374.9 255.0h0M356.9 225.9h0M369.6 260.9h0M353.9 246.8h0M347.6 254.9h0M356.1 244.0h0M367.4 239.5h0M354.1 237.2h0M340.3 252.0h0M366.9 237.4h0M357.9 232.5h0M356.7 257.7h0M373.3 242.8h0M371.5 242.2h0M368.6 232.1h0M371.5 252.7h0M343.5 235.8h0M353.0 262.4h0M352.3 250.3h0M362.6 240.7h0M357.5 227.7h0M351.8 234.1h0M343.9 236.7h0M369.7 263.2h0M367.6 254.2h0M361.8 244.8h0M349.6 261.0h0M359.9 244.8h0M348.2 228.5h0M359.7 257.8h0M343.8 257.6h0M368.0 230.3h0M344.4 245.4h0M370.1 245.8h0M348.8 253.8h0M350.0 254.8h0M343.8 239.0h0M343.4 250.7h0M346.2 237.8h0M350.6 246.7h0M341.7 249.9h0M371.2 252.3h0M351.8 265.0h0M354.6 243.9h0M358.0 254.1h0M370.0 255.2h0M364.5 242.7h0M351.2 263.9h0M345.2 253.9h0M357.8 242.9h0M360.8 230.6h0M363.0 264.6h0"/>
<path stroke-width="2.4" d="M629.0 244.9h0M631.2 262.7h0M640.1 255.5h0M617.0 227.8h0M622.1 231.0h0M611.3 250.3h0M632.0 237.1h0M625.2 245.4h0M627.4 235.4h0M618.8 241.7h0M629.6 242.6h0M622.9 247.2h0M618.1 236.5h0M604.3 250.2h0M612.1 252.7h0M602.5 243.9h0M635.7 254.0h0M618.3 227.3h0M625.9 258.7h0M641.9 251.8h0M631.6 243.7h0M619.7 230.5h0M632.8 244.3h0M618.2 238.2h0M614.1 229.6h0M616.2 229.4h0M626.9 234.7h0M608.8 246.2h0M614.8 242.0h0M622.0 257.3h0M627.9 241.4h0M622.7 262.7h0M615.2 248.8h0M610.9 242.2h0M616.9 256.8h0M629.1 257.9h0M616.4 250.0h0M620.0 250.4h0M621.4 252.7h0M629.6 242.0h0M610.3 235.5h0M616.8 231.1h0M624.6 253.7h0M620.1 249.1h0M618.7 263.5h0M603.6 237.8h0M621.6 259.7h0M624.9 252.5h0M627.0 229.5h0M607.5 243.5h0M636.7 253.4h0M617.0 234.7h0M634.8 230.5h0M629.4 255.8h0M619.3 240.9h0M632.0 237.1h0M637.4 231.7h0M620.1 246.9h0M632.9 230.2h0M605.4 246.3h0M633.7 234.9h0M623.0 239.0h0M637.8 248.8h0M631.3 236.3h0M634.4 247.4h0M622.5 262.5h0M632.3 243.1h0M621.7 240.8h0M615.2 263.3h0M614.3 227.8h0M613.0 239.1h0M639.2 243.8h0M615.3 260.4h0M618.3 227.8h0M627.5 266.0h0M615.2 229.5h0M615.8 226.3h0M623.6 244.3h0M622.3 250.4h0M634.1 234.4h0M619.4 236.5h0M628.6 239.9h0M640.9 245.3h0M634.0 228.7h0M631.8 237.8h0M612.5 252.3h0M633.9 248.0h0M631.1 244.0h0M633.7 249.5h0M637.1 250.9h0M623.9 240.9h0M629.1 243.3h0M637.3 236.8h0M620.6 243.1h0M614.0 231.9h0M636.3 247.4h0M619.4 254.4h0M614.2 248.7h0M614.0 255.8h0M620.0 251.0h0M625.0 247.8h0M613.6 263.2h0M621.5 243.5h0M606.9 249.0h0M612.0 254.3h0M616.1 265.1h0M637.8 240.1h0M609.7 251.7h0M619.9 261.1h0M643.0 247.4h0M608.7 239.6h0M610.1 231.6h0M610.2 241.5h0M622.4 246.0h0M633.7 256.9h0M623.7 240.7h0M625.9 264.0h0M611.3 231.1h0M609.0 251.6h0M636.5 245.9h0M630.8 241.0h0M619.8 254.2h0M614.4 243.9h0M619.2 251.5h0M607.2 254.1h0M632.3 236.5h0M630.5 229.9h0M621.5 250.9h0M633.6 233.6h0M608.7 251.3h0M627.0 226.9h0M618.8 230.4h0M624.1 253.3h0M633.6 255.2h0M612.4 259.4h0M633.9 247.7h0M616.7 254.9h0M612.4 239.6h0M622.8 258.0h0M638.0 257.6h0M618.2 258.6h0M611.1 237.3h0M615.1 250.6h0M622.0 246.1h0M616.0 235.4h0M607.0 238.1h0M626.5 248.7h0M628.8 258.8h0M630.2 240.3h0M631.0 245.7h0M626.2 245.0h0M621.6 227.0h0M617.9 238.7h0M617.2 256.0h0M620.4 240.6h0M622.4 224.7h0M632.2 257.6h0M611.1 228.9h0M630.0 238.9h0M628.0 237.8h0M642.6 249.7h0M609.0 246.7h0M602.3 241.5h0M631.1 255.9h0M618.0 229.5h0M622.7 248.7h0M625.7 234.7h0M623.6 251.7h0M614.8 262.7h0M612.3 233.0h0M623.9 230.3h0M620.6 242.8h0M628.3 260.8h0M631.6 245.4h0M622.6 246.1h0M626.0 259.1h0M623.8 250.4h0M624.3 244.1h0M603.2 250.9h0M620.7 242.8h0M630.0 247.0h0M614.2 243.5h0M615.3 240.7h0M607.3 245.2h0M626.9 240.7h0M622.2 227.4h0M620.3 243.0h0M615.3 261.0h0M635.5 256.2h0M605.4 257.4h0M634.6 237.7h0M624.3 256.6h0M640.0 239.4h0M617.0 254.7h0M619.7 259.9h0M618.0 244.8h0M632.0 244.4h0M627.1 238.1h0M608.3 243.4h0M628.5 247.6h0M618.8 240.8h0M633.5 230.5h0M618.8 235.0h0M633.6 249.5h0M625.4 229.1h0M610.1 255.2h0M633.1 237.6h0M630.9 245.2h0M629.9 234.5h0M611.7 248.4h0M624.6 246.8h0M625.7 247.8h0M638.5 258.7h0M626.1 251.0h0M625.9 247.8h0M611.2 260.9h0M634.0 246.7h0M619.8 236.2h0M630.1 244.2h0M638.3 246.0h0M626.3 243.9h0M611.2 239.3h0M607.1 245.5h0M627.9 234.6h0M616.7 259.8h0M615.8 243.7h0M623.7 241.9h0M618.2 246.5h0M636.1 236.2h0M620.6 255.2h0M626.4 242.7h0M624.6 231.7h0M618.9 253.2h0M619.9 259.8h0M635.1 235.8h0M637.7 238.9h0M632.1 249.0h0M634.0 241.4h0M636.9 248.7h0M625.9 236.5h0M630.7 236.2h0M617.1 257.7h0M607.3 245.4h0M639.9 255.0h0M621.1 244.2h0M607.6 237.8h0M621.5 261.4h0M622.3 231.7h0M627.0 252.4h0M617.1 260.4h0M629.0 256.2h0M636.1 255.9h0M606.4 237.9h0M634.3 247.8h0M603.2 250.9h0M608.3 249.4h0M615.7 250.1h0M623.1 232.8h0M615.2 241.7h0M625.4 227.4h0M613.0 238.0h0M616.9 262.0h0M635.7 242.0h0M632.9 241.3h0M614.9 232.0h0M624.9 264.6h0M605.5 239.2h0M631.0 239.7h0M607.9 231.2h0M618.6 236.7h0M624.1 246.1h0M631.6 235.7h0M624.4 230.8h0M628.2 256.7h0M628.1 239.0h0M619.0 255.2h0M631.9 237.5h0M621.5 245.4h0M625.6 249.2h0M617.3 233.0h0M619.0 233.1h0M622.7 242.0h0M628.4 228.1h0M618.6 246.2h0M634.0 259.1h0M625.6 251.2h0M621.6 257.5h0M615.1 236.4h0M609.9 239.5h0M630.7 241.4h0M622.1 253.4h0M606.7 256.8h0M631.3 233.7h0M612.3 248.0h0M628.3 241.4h0M604.3 236.6h0M616.6 232.8h0M616.0 248.5h0M623.9 257.7h0M626.9 232.4h0M638.1 240.3h0M628.8 228.3h0M633.6 229.1h0M612.8 230.1h0M632.0 249.5h0M641.6 240.8h0M602.5 239.6h0M620.5 262.6h0M623.3 241.9h0M614.7 254.4h0M641.4 249.0h0M625.4 257.1h0M639.5 254.2h0M625.4 245.1h0M627.4 249.0h0M635.1 259.4h0M629.9 253.9h0M622.0 231.8h0M625.7 231.7h0M629.7 243.3h0M619.0 234.0h0M628.8 252.9h0M621.0 235.6h0M617.3 264.0h0M612.3 234.1h0M614.2 227.0h0M624.8 250.7h0M619.1 252.9h0M614.2 253.9h0M618.1 237.5h0M626.7 227.7h0M618.1 259.4h0M642.5 249.6h0M618.8 246.6h0M633.0 246.6h0M616.8 247.7h0M605.5 251.5h0M612.7 258.6h0M625.9 226.3h0M637.2 231.5h0M614.3 249.4h0M639.3 256.4h0M613.2 244.1h0M622.5 246.1h0M633.6 253.0h0M607.6 232.3h0M623.4 244.1h0M616.0 225.9h0M616.3 246.2h0M634.0 257.6h0M634.6 248.9h0M616.3 227.7h0M620.3 249.8h0M632.1 254.2h0M619.5 226.8h0M635.3 244.1h0M622.8 238.9h0M614.1 256.0h0M620.7 263.5h0M613.1 261.9h0M610.6 257.0h0M611.4 256.5h0M616.7 251.9h0M638.7 245.2h0M623.4 241.3h0M616.7 240.9h0M638.6 248.4h0M629.8 261.1h0M630.4 260.0h0M612.5 244.3h0M637.5 238.2h0M616.0 249.6h0M636.1 234.8h0M610.2 247.2h0M624.9 228.9h0M630.8 227.8h0M619.9 262.3h0M621.1 251.1h0M635.2 244.5h0M634.3 235.4h0"/>
</g>
<circle cx="622.5" cy="245.6" r="91.6" fill="none" stroke="#555" stroke-width="1.1"/>
<line x1="359.3" y1="245.6" x2="435.8" y2="179.6" stroke="#444" stroke-width="1.05"/>
<line x1="666.4" y1="165.2" x2="686.8" y2="147.6" stroke="#555" stroke-width="1.1"/>
<circle cx="359.3" cy="245.6" r="1.4" fill="#163f85"/>
<circle cx="622.4" cy="245.6" r="1.4" fill="#163f85"/>
<circle cx="260.6" cy="127.0" r="8.4" fill="#0b6cc0"/>
<circle cx="523.2" cy="126.9" r="8.3" fill="#0b6cc0"/>
<text x="260.6" y="131.4" font-family="Liberation Sans" font-weight="700" font-size="13.5" fill="#fff" text-anchor="middle" transform="translate(260.6 0) scale(1.08 1) translate(-260.6 0)">a</text>
<text x="523.3" y="131.8" font-family="Liberation Sans" font-weight="700" font-size="14" fill="#fff" text-anchor="middle" transform="translate(523.3 0) scale(1.0 1) translate(-523.3 0)">b</text>
<rect x="40.3" y="117.9" width="6.5" height="3.9" fill="#5fc248"/>
<path d="M43.6 118.3 L45.5 118.1 L49.8 109.0 L49.0 108.5 Z" fill="#222"/>
<rect x="744.2" y="376.2" width="2" height="2" fill="#cfcfcf"/>
</svg>
<div class="t p f" style="left:39.72px;top:129.10px;font-size:12.3px;font-weight:400;color:#3c3c3c;transform:scaleX(0.9010)">represents the probability of finding an</div><div class="t p f" style="left:40.05px;top:144.60px;font-size:12.3px;font-weight:400;color:#3c3c3c;transform:scaleX(0.8964)">electron at a given position around the</div><div class="t p f" style="left:39.83px;top:160.10px;font-size:12.3px;font-weight:400;color:#3c3c3c;transform:scaleX(0.8871)">nucleus. <b>a.</b> The higher density of points</div><div class="t p f" style="left:39.83px;top:175.60px;font-size:12.3px;font-weight:400;color:#3c3c3c;transform:scaleX(0.8882)">near the nucleus shows that the</div><div class="t p f" style="left:40.05px;top:191.10px;font-size:12.3px;font-weight:400;color:#3c3c3c;transform:scaleX(0.8935)">electron is more likely to be found</div><div class="t p f" style="left:40.05px;top:206.60px;font-size:12.3px;font-weight:400;color:#3c3c3c;transform:scaleX(0.8946)">close to the nucleus. <b>b.</b> At any given</div><div class="t p f" style="left:40.28px;top:222.10px;font-size:12.3px;font-weight:400;color:#3c3c3c;transform:scaleX(0.8970)">time, there is a 90% probability of</div><div class="t p f" style="left:40.27px;top:237.60px;font-size:12.3px;font-weight:400;color:#3c3c3c;transform:scaleX(0.9069)">finding the electron within the circular</div><div class="t p f" style="left:39.85px;top:253.10px;font-size:12.3px;font-weight:400;color:#3c3c3c;transform:scaleX(0.8652)">region shown. This surface is sometimes</div><div class="t p f" style="left:40.06px;top:268.60px;font-size:12.3px;font-weight:400;color:#3c3c3c;transform:scaleX(0.8807)">chosen to represent the boundary of</div><div class="t p f" style="left:40.27px;top:284.10px;font-size:12.3px;font-weight:400;color:#3c3c3c;transform:scaleX(0.9017)">the atom. In this illustration, the circle</div><div class="t p f" style="left:40.06px;top:299.60px;font-size:12.3px;font-weight:400;color:#3c3c3c;transform:scaleX(0.8876)">corresponds to a projection of the</div><div class="t p f" style="left:40.06px;top:315.10px;font-size:12.3px;font-weight:400;color:#3c3c3c;transform:scaleX(0.8870)">3-dimensional sphere that contains</div><div class="t p f" style="left:40.28px;top:330.60px;font-size:12.3px;font-weight:400;color:#3c3c3c;transform:scaleX(0.8676)">the electrons.</div><div class="t f h" style="left:51.37px;top:112.60px;font-size:13px;font-weight:700;color:#2e2e2e;transform:scaleX(1.1031)">Figure 15</div><div class="t p f" style="left:121.28px;top:113.60px;font-size:12.3px;font-weight:400;color:#3c3c3c;transform:scaleX(0.8632)">The density map</div><div class="t" style="left:77.31px;top:40.50px;font-size:29.2px;font-weight:700;color:#000;transform:scaleX(0.8428)">ELECTRON</div><div class="t" style="left:220.34px;top:40.50px;font-size:29.2px;font-weight:700;color:#000;transform:scaleX(0.8790)">DISTRIBUTION</div><div class="t" style="left:411.51px;top:40.50px;font-size:29.2px;font-weight:700;color:#000;transform:scaleX(0.8441)">LAB</div><div class="t p f" style="left:443.36px;top:167.00px;font-size:12.8px;font-weight:400;color:#333;transform:scaleX(0.8380)">Nucleus</div><div class="t p f" style="left:691.97px;top:139.90px;font-size:12.8px;font-weight:400;color:#333;transform:scaleX(0.8335)">Boundary</div><div class="t f h" style="left:446.13px;top:357.40px;font-size:13.5px;font-weight:700;color:#2b2b2b;transform:scaleX(1.0725)">Density Maps</div>
<svg class="band" width="768" height="152" viewBox="0 424 768 152">
<rect x="0" y="424.5" width="768" height="152" fill="#3bb2e0"/>
<polygon points="0,424.5 171.5,424.5 0,576" fill="#f96c1c"/>
<polygon points="171.5,424.5 300,576 0,576" fill="#3994b2"/>
</svg>
</body></html>
